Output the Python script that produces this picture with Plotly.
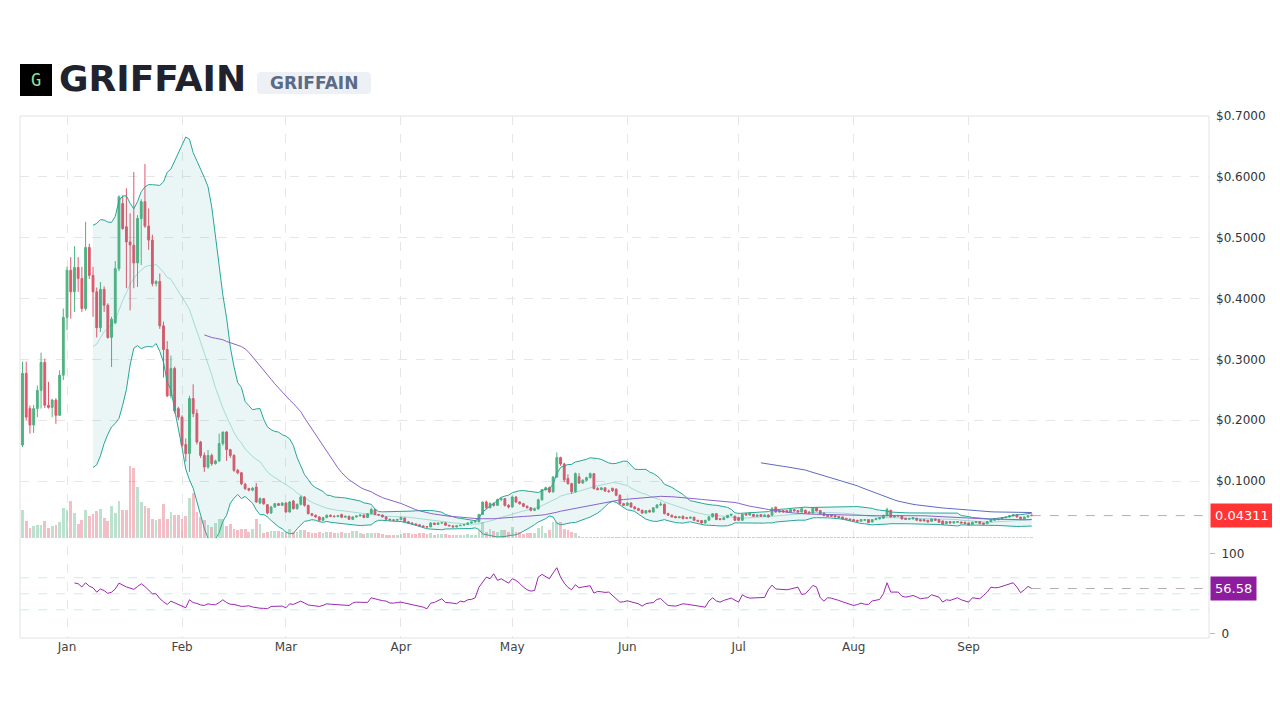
import pandas as pd
import plotly.graph_objects as go

# ---------------- data ----------------
start_date = "2024-12-20"

opens = [
    .159, .277, .219, .192, .219, .249, .295, .2245, .221, .233,
    .208, .274, .369, .4465, .411, .451, .433, .3835, .484, .438,
    .411, .352, .415, .389, .336, .360, .449, .556, .518, .493,
    .4875, .4585, .5315, .559, .519, .496, .4245, .428, .355, .316,
    .240, .285, .219, .205, .160, .145, .2355, .211, .164, .142,
    .123, .142, .1285, .133, .1615, .1805, .1515, .142, .1175, .1135,
    .0946, .0875, .085, .090, .0638, .071, .061, .0474, .0573, .0628,
    .060, .0638, .049, .067, .0545, .0616, .0737, .060, .0463, .0436,
    .0409, .0354, .0398, .0436, .042, .0414, .045, .0405, .042, .037,
    .0409, .0425, .044, .040, .0463, .053, .045, .044, .041, .037,
    .036, .0355, .0365, .039, .033, .031, .0295, .028, .0262, .0248,
    .0245, .031, .0285, .031, .0312, .0272, .0262, .0244, .0264, .0272,
    .0285, .031, .0326, .033, .045, .0655, .056, .063, .060, .0694,
    .071, .060, .0573, .0736, .0655, .0627, .0584, .056, .0518, .054,
    .069, .0858, .089, .082, .1066, .1385, .128, .104, .0957, .0822,
    .107, .0967, .1011, .1055, .112, .0875, .0858, .0887, .0835, .088,
    .0865, .0765, .0628, .060, .0638, .0573, .0545, .0518, .0474, .0513,
    .049, .056, .0605, .0617, .0464, .0436, .0416, .0395, .042, .0395,
    .0389, .0405, .0354, .035, .031, .0354, .0411, .0463, .0381, .0365,
    .0397, .0436, .042, .0397, .0354, .0463, .0441, .0452, .0419, .0447,
    .0419, .0441, .0436, .057, .049, .0513, .0513, .049, .0529, .0513,
    .049, .0518, .049, .0474, .056, .0513, .0474, .0441, .0447, .0436,
    .0419, .0409, .0387, .0376, .0365, .0354, .0338, .0354, .0365, .0326,
    .0365, .0376, .0387, .043, .0518, .0408, .043, .043, .0387, .037,
    .0376, .0387, .0365, .0365, .0354, .0338, .0376, .0365, .0343, .030,
    .0332, .031, .0321, .0326, .0321, .031, .0288, .0315, .0332, .031,
    .0299, .0332, .0354, .0376, .0376, .0397, .0408, .0425, .0447, .0408,
    .0376, .0408, .0442,
]

highs = [
    .296, .296, .224, .225, .257, .311, .301, .263, .235, .236,
    .282, .3835, .4525, .468, .486, .468, .452, .526, .490, .452,
    .418, .427, .420, .392, .370, .4615, .5695, .5695, .581, .540,
    .608, .537, .563, .621, .548, .505, .430, .441, .362, .330,
    .306, .288, .222, .208, .170, .240, .259, .218, .166, .147,
    .151, .145, .135, .178, .181, .182, .153, .144, .120, .115,
    .097, .089, .090, .0967, .073, .072, .062, .059, .064, .064,
    .065, .065, .067, .069, .063, .076, .075, .061, .047, .045,
    .042, .041, .045, .045, .044, .044, .046, .043, .043, .042,
    .043, .045, .045, .047, .056, .054, .046, .045, .042, .038,
    .037, .038, .041, .040, .034, .032, .030, .029, .027, .026,
    .032, .031, .032, .032, .032, .028, .027, .027, .028, .029,
    .032, .033, .036, .046, .066, .068, .065, .065, .071, .073,
    .072, .062, .076, .075, .067, .064, .060, .057, .056, .071,
    .087, .091, .091, .108, .147, .140, .130, .111, .097, .114,
    .113, .103, .107, .114, .113, .090, .090, .090, .086, .089,
    .088, .078, .064, .065, .065, .059, .056, .053, .052, .053,
    .057, .062, .066, .063, .048, .045, .043, .042, .043, .041,
    .041, .041, .036, .036, .036, .042, .047, .047, .039, .041,
    .044, .046, .043, .040, .046, .047, .048, .046, .045, .045,
    .045, .045, .0575, .058, .052, .052, .052, .054, .054, .052,
    .055, .053, .050, .057, .057, .052, .048, .045, .045, .044,
    .042, .041, .039, .038, .037, .036, .037, .037, .037, .037,
    .039, .040, .044, .0562, .053, .044, .044, .044, .039, .039,
    .040, .039, .037, .037, .036, .038, .038, .037, .035, .034,
    .034, .034, .034, .033, .033, .032, .033, .034, .034, .031,
    .034, .037, .039, .038, .040, .041, .044, .045, .045, .041,
    .041, .044, .045,
]

lows = [
    .156, .200, .178, .179, .205, .219, .220, .219, .205, .194,
    .207, .266, .348, .367, .378, .411, .378, .380, .432, .370,
    .336, .345, .378, .334, .2875, .358, .445, .513, .417, .3805,
    .417, .419, .455, .516, .480, .420, .420, .350, .270, .238,
    .236, .211, .200, .156, .132, .115, .205, .160, .138, .115,
    .120, .125, .127, .131, .158, .133, .138, .115, .111, .093,
    .085, .083, .083, .064, .062, .061, .045, .046, .056, .059,
    .059, .048, .048, .053, .053, .060, .058, .045, .042, .040,
    .034, .035, .039, .041, .040, .041, .039, .040, .036, .036,
    .040, .042, .039, .039, .046, .044, .043, .040, .036, .035,
    .035, .035, .036, .032, .030, .029, .027, .026, .024, .024,
    .024, .028, .028, .030, .027, .026, .024, .024, .026, .027,
    .028, .030, .032, .032, .044, .054, .055, .058, .059, .067,
    .058, .055, .056, .064, .061, .057, .055, .050, .051, .053,
    .068, .084, .080, .081, .105, .125, .098, .094, .079, .081,
    .095, .095, .099, .104, .086, .085, .085, .082, .081, .082,
    .075, .061, .059, .059, .056, .053, .051, .046, .046, .048,
    .048, .055, .059, .045, .043, .040, .039, .039, .037, .038,
    .038, .035, .033, .030, .030, .035, .040, .036, .036, .036,
    .039, .043, .035, .034, .035, .043, .043, .041, .041, .041,
    .041, .040, .043, .048, .048, .048, .048, .048, .050, .048,
    .048, .047, .046, .047, .050, .045, .042, .041, .041, .040,
    .039, .037, .036, .035, .034, .033, .033, .035, .031, .032,
    .036, .037, .038, .042, .040, .040, .042, .037, .036, .036,
    .037, .035, .034, .034, .032, .033, .035, .031, .028, .029,
    .030, .030, .032, .030, .029, .027, .028, .031, .029, .028,
    .029, .033, .035, .036, .037, .039, .040, .042, .040, .037,
    .037, .040, .042,
]

closes = [
    .277, .205, .192, .219, .249, .295, .2245, .221, .233, .208,
    .274, .369, .4465, .411, .451, .433, .3835, .484, .438, .411,
    .352, .415, .389, .336, .366, .449, .567, .515, .493, .488,
    .4585, .5315, .559, .519, .496, .4245, .428, .355, .316, .240,
    .285, .215, .205, .159, .145, .2355, .211, .164, .142, .123,
    .142, .1285, .133, .1615, .1805, .1515, .142, .1175, .1135, .0955,
    .0875, .085, .088, .0655, .071, .0625, .0474, .0573, .0628, .060,
    .0638, .049, .0655, .0545, .0616, .0737, .060, .0463, .0436, .0409,
    .0354, .0398, .0436, .042, .0414, .043, .0405, .042, .037, .0409,
    .0425, .044, .040, .0463, .053, .045, .044, .041, .037, .036,
    .0355, .0365, .040, .033, .031, .0295, .028, .0262, .0248, .0245,
    .031, .0285, .031, .0312, .0272, .0262, .0244, .0264, .0272, .0285,
    .031, .0326, .035, .045, .0655, .056, .063, .060, .0694, .071,
    .060, .0573, .0736, .0655, .0627, .0584, .056, .0518, .054, .069,
    .0858, .089, .082, .1066, .1385, .128, .102, .0957, .0822, .112,
    .0967, .1011, .1055, .112, .0875, .0858, .0887, .0835, .0825, .0842,
    .0765, .0628, .060, .0638, .0573, .0545, .0518, .0474, .0513, .049,
    .056, .0605, .0617, .0464, .0436, .041, .0395, .0411, .0381, .0389,
    .0405, .0354, .0338, .031, .0354, .0411, .0463, .0365, .0365, .0397,
    .0436, .0452, .0354, .0354, .0452, .0441, .0474, .0419, .0441, .0419,
    .0441, .0408, .0545, .049, .0513, .049, .049, .0529, .0507, .049,
    .0545, .0474, .0474, .056, .0507, .0463, .0431, .0419, .042, .0409,
    .0398, .0375, .0365, .0354, .0343, .0338, .0365, .0365, .0315, .0365,
    .0381, .0397, .0436, .053, .0408, .043, .0425, .0375, .037, .0381,
    .0397, .0354, .0343, .0343, .0326, .0376, .0354, .032, .0288, .0332,
    .031, .0332, .0332, .031, .0299, .0277, .0321, .0332, .0299, .0288,
    .0332, .0365, .0381, .0365, .0397, .0408, .043, .0447, .0408, .0381,
    .0408, .043, .04311,
]

# volume, millions (relative)
volumes = [
    28, 17, 10, 12, 13, 13, 17, 10, 12, 13,
    16, 30, 28, 37, 25, 14, 18, 28, 22, 24,
    27, 29, 20, 17, 32, 25, 37, 28, 28, 72,
    70, 51, 36, 32, 30, 19, 18, 19, 34, 19,
    26, 23, 23, 19, 22, 40, 45, 26, 21, 18,
    13, 11, 15, 19, 19, 12, 14, 9, 8, 9,
    9, 6, 9, 19, 14, 5, 6, 7, 7, 7,
    6, 5, 9, 6, 6, 8, 8, 6, 5, 5,
    6, 5, 6, 6, 5, 5, 6, 5, 5, 7,
    7, 5, 4, 5, 5, 5, 5, 4, 3, 3,
    3, 3, 4, 5, 5, 4, 4, 5, 5, 4,
    5, 3, 4, 4, 4, 3, 3, 3, 3, 3,
    4, 3, 3, 8, 16, 6, 9, 7, 6, 8,
    8, 6, 11, 6, 6, 4, 5, 5, 5, 10,
    12, 5, 8, 16, 16, 16, 9, 8, 6, 5,
    2, 1, 1, 1, 1, 1, 1, 1, 1, 1,
    1, 1, 1, 1, 1, 1, 1, 1, 1, 1,
    1, 1, 1, 1, 1, 1, 1, 1, 1, 1,
    1, 1, 1, 1, 1, 1, 1, 1, 1, 1,
    1, 1, 1, 1, 1, 1, 1, 1, 1, 1,
    1, 1, 1, 1, 1, 1, 1, 1, 1, 1,
    1, 1, 1, 1, 1, 1, 1, 1, 1, 1,
    1, 1, 1, 1, 1, 1, 1, 1, 1, 1,
    1, 1, 1, 1, 1, 1, 1, 1, 1, 1,
    1, 1, 1, 1, 1, 1, 1, 1, 1, 1,
    1, 1, 1, 1, 1, 1, 1, 1, 1, 1,
    1, 1, 1, 1, 1, 1, 1, 1, 1, 1,
    1, 1, 1,
]

# RSI(14) values, from the 15th day on
rsi_start = 14
rsi_values = [
    63.5, 62.5, 58.5, 63.7, 59.5, 57.5, 52, 56, 54, 50.5,
    52, 56, 63.3, 60.5, 58.5, 57, 55.5, 59, 62.5, 59,
    54, 50, 50, 44, 40, 36.7, 40.8, 38.5, 36.7, 34.5,
    32.5, 42.5, 39, 38, 36, 35.4, 37.5, 36.5, 36.3, 39,
    42.5, 39, 37, 36.7, 35.5, 34.2, 34.5, 35, 33.5, 32.5,
    32, 31.8, 31.25, 34.2, 34.5, 34.6, 34.6, 32.5, 37.5, 36.7,
    38.5, 40.8, 38.5, 36, 35.4, 34.7, 34.2, 35.5, 37.5, 37,
    36.7, 36, 35.6, 35.4, 35.4, 38.5, 39.6, 39.4, 39.4, 39.2,
    45, 43.5, 42.5, 41.5, 40.8, 38.5, 38.3, 39.2, 39.6, 38.5,
    37.5, 36.5, 35.4, 34.5, 33.3, 31.25, 38.3, 39.2, 41.5, 43.75,
    39.2, 39, 38.3, 37.5, 40.8, 39.8, 42.5, 43, 45, 58,
    65, 70.8, 68.75, 75, 66.7, 68.75, 66, 63.3, 68.75, 66.7,
    63, 58.3, 55, 53.3, 54.2, 70.8, 74.2, 71, 68.75, 76,
    82.5, 71, 63.3, 58, 55, 61.25, 57.5, 58.5, 59.5, 60,
    50.8, 52.9, 52.5, 51.7, 52.1, 47.9, 44, 39.6, 40, 41.25,
    40, 39, 37.5, 34.6, 37.5, 38.5, 39, 43, 44, 39.5,
    35.4, 35, 34.6, 36, 37.5, 37, 36.25, 35.5, 34.5, 34,
    33.3, 41, 45, 41, 39.6, 41.7, 43, 44.6, 42, 39.6,
    48.75, 46, 44.6, 45, 45.2, 45.3, 45.4, 55, 60.8, 56,
    55.5, 55.3, 55, 56, 57.5, 58.3, 49.2, 50, 55, 60.4,
    58.3, 45, 40.8, 45, 44.5, 43.5, 41.7, 40, 38.5, 37.5,
    35.4, 36.5, 38.3, 37, 36.7, 41, 42, 42.9, 50, 63.75,
    52.1, 52.5, 52.1, 47, 45.8, 46.7, 47.9, 46, 43.75, 44.5,
    45, 48.75, 47.5, 45.8, 39.6, 42.5, 41.7, 43.5, 45, 42.5,
    41, 39.6, 45, 44.5, 43.75, 47.9, 52, 58.3, 57.5, 57.8,
    59.5, 60.4, 62.5, 63.75, 58.3, 51.25, 55, 59.2, 56.58,
]

month_ticks = ["2025-01-01", "2025-02-01", "2025-03-01", "2025-04-01", "2025-05-01",
               "2025-06-01", "2025-07-01", "2025-08-01", "2025-09-01"]
month_labels = ["Jan", "Feb", "Mar", "Apr", "May", "Jun", "Jul", "Aug", "Sep"]
price_ticks = [0.1, 0.2, 0.3, 0.4, 0.5, 0.6, 0.7]
rsi_ticks = [0, 100]
rsi_levels = [30, 50, 70]
token_name = "GRIFFAIN"
token_symbol = "GRIFFAIN"
last_price_text = "0.04311"
last_rsi_text = "56.58"

# ---------------- derived series ----------------
dates = pd.date_range(start_date, periods=len(closes), freq="D")
cs = pd.Series(closes)
sma20 = cs.rolling(20).mean()
sd20 = cs.rolling(20).std(ddof=0)
bb_up = sma20 + 2 * sd20
bb_lo = sma20 - 2 * sd20
sma50 = cs.rolling(50).mean()
sma200 = cs.rolling(200).mean()

UP = "#4fb380"
DOWN = "#e3556a"
vol_colors = ["rgba(79,179,128,0.38)" if c >= o else "rgba(227,85,106,0.38)"
              for o, c in zip(opens, closes)]

# ---------------- geometry (page has an 8px body margin) ----------------
OFF = 8
W, H = 1280 - 2 * OFF, 720 - 2 * OFF
PL, PR, PT, PB = 20, 1209, 116, 638          # plot area in window pixels
ML, MR, MT, MB = PL - OFF, 1280 - OFF - PR, PT - OFF, 720 - OFF - PB
PW, PH = PR - PL, PB - PT


def px(x):
    return (x - PL) / PW


def py(y):
    return (PB - y) / PH


price_dom = [py(538.3), 1.0]
rsi_dom = [0.0, py(545.7)]

fig = go.Figure()

# volume (overlay axis)
fig.add_trace(go.Bar(x=dates, y=volumes, marker=dict(color=vol_colors, line=dict(width=0)),
                     width=0.75 * 86400000, xaxis="x", yaxis="y2", hoverinfo="skip"))

# Bollinger bands
fig.add_trace(go.Scatter(x=dates, y=bb_up, mode="lines", line=dict(color="#26a69a", width=1),
                         xaxis="x", yaxis="y", hoverinfo="skip"))
fig.add_trace(go.Scatter(x=dates, y=bb_lo, mode="lines", line=dict(color="#26a69a", width=1),
                         fill="tonexty", fillcolor="rgba(38,166,154,0.10)",
                         xaxis="x", yaxis="y", hoverinfo="skip"))
fig.add_trace(go.Scatter(x=dates, y=sma20, mode="lines", line=dict(color="rgba(38,166,154,0.35)", width=1),
                         xaxis="x", yaxis="y", hoverinfo="skip"))
fig.add_trace(go.Scatter(x=dates, y=sma50, mode="lines", line=dict(color="#8a63c8", width=1),
                         xaxis="x", yaxis="y", hoverinfo="skip"))
fig.add_trace(go.Scatter(x=dates, y=sma200, mode="lines", line=dict(color="#5c6bc0", width=1),
                         xaxis="x", yaxis="y", hoverinfo="skip"))

# candles
fig.add_trace(go.Candlestick(x=dates, open=opens, high=highs, low=lows, close=closes,
                             increasing=dict(line=dict(color=UP, width=1), fillcolor=UP),
                             decreasing=dict(line=dict(color=DOWN, width=1), fillcolor=DOWN),
                             whiskerwidth=0, xaxis="x", yaxis="y", hoverinfo="skip"))

# RSI
fig.add_trace(go.Scatter(x=dates[rsi_start:], y=rsi_values, mode="lines",
                         line=dict(color="#9c27b0", width=1), xaxis="x2", yaxis="y3", hoverinfo="skip"))

x_range = ["2024-12-19 07:50", "2025-11-04 18:30"]
grid = "#e6e6e6"
tickfont = dict(family="DejaVu Sans", size=12, color="#333333")

shapes = [
    dict(type="rect", xref="paper", yref="paper", x0=0, x1=1, y0=0, y1=1,
         line=dict(color="#e2e2e2", width=1), layer="below"),
    dict(type="line", xref="x", yref="y", x0=dates[-1], x1=x_range[1], y0=closes[-1], y1=closes[-1],
         line=dict(color="#b0b0b0", width=1, dash="dash")),
    dict(type="line", xref="x2", yref="y3", x0=dates[-1], x1=x_range[1], y0=rsi_values[-1], y1=rsi_values[-1],
         line=dict(color="#b0b0b0", width=1, dash="dash")),
    dict(type="rect", xref="paper", yref="paper", x0=px(20), x1=px(52), y0=py(96), y1=py(64),
         fillcolor="#000000", line=dict(width=0)),
]
for lv in rsi_levels:
    shapes.append(dict(type="line", xref="x2 domain", yref="y3", x0=0, x1=1, y0=lv, y1=lv,
                       line=dict(color="#cde9f5", width=1, dash="dash"), layer="below"))

bx0, bx1, by0, by1, r = px(257), px(371), py(94), py(72), 4
rx, ry = r / PW, r / PH
badge_path = (f"M {bx0+rx},{by0} L {bx1-rx},{by0} Q {bx1},{by0} {bx1},{by0+ry} "
              f"L {bx1},{by1-ry} Q {bx1},{by1} {bx1-rx},{by1} L {bx0+rx},{by1} "
              f"Q {bx0},{by1} {bx0},{by1-ry} L {bx0},{by0+ry} Q {bx0},{by0} {bx0+rx},{by0} Z")
shapes.append(dict(type="path", xref="paper", yref="paper", path=badge_path,
                   fillcolor="#edf0f4", line=dict(width=0)))

annotations = [
    dict(xref="paper", yref="paper", x=px(36), y=py(80), text="G", showarrow=False,
         font=dict(family="DejaVu Sans Mono", size=17, color="#8fe39a"), xanchor="center", yanchor="middle"),
    dict(xref="paper", yref="paper", x=px(57), y=py(78), text=f"<b>{token_name}</b>", showarrow=False,
         font=dict(family="DejaVu Sans", size=36, color="#20222e"), xanchor="left", yanchor="middle"),
    dict(xref="paper", yref="paper", x=px(314), y=py(83), text=f"<b>{token_symbol}</b>", showarrow=False,
         font=dict(family="DejaVu Sans", size=17, color="#5b6b85"), xanchor="center", yanchor="middle"),
    dict(xref="paper", yref="y", x=1, y=closes[-1], text=last_price_text, showarrow=False,
         xanchor="left", yanchor="middle", xshift=1, bgcolor="#ff3434", borderpad=4,
         font=dict(family="DejaVu Sans", size=13, color="#ffffff")),
    dict(xref="paper", yref="y3", x=1, y=rsi_values[-1], text=last_rsi_text, showarrow=False,
         xanchor="left", yanchor="middle", xshift=1, bgcolor="#8e1c9e", borderpad=4,
         font=dict(family="DejaVu Sans", size=13, color="#ffffff")),
]

fig.update_layout(
    width=W, height=H,
    margin=dict(l=ML, r=MR, t=MT, b=MB, autoexpand=False),
    paper_bgcolor="white", plot_bgcolor="white",
    showlegend=False, hovermode=False,
    bargap=0,
    xaxis=dict(domain=[0, 1], anchor="y", range=x_range, tickvals=month_ticks, showticklabels=False,
               showgrid=True, gridcolor=grid, griddash="dash", gridwidth=1, zeroline=False, automargin=False,
               showline=False, rangeslider=dict(visible=False), ticks=""),
    xaxis2=dict(domain=[0, 1], anchor="y3", matches="x", range=x_range, tickvals=month_ticks,
                ticktext=month_labels, showgrid=True, gridcolor=grid, griddash="dash", gridwidth=1,
                zeroline=False, showline=False, ticks="", automargin=False,
                tickfont=dict(family="DejaVu Sans", size=12, color="#444444")),
    yaxis=dict(domain=price_dom, anchor="x", side="right", range=[0.0058, 0.7], tickvals=price_ticks,
               tickformat="$.4f", showgrid=True, gridcolor=grid, griddash="dash", zeroline=False,
               showline=False, ticks="", ticklabelstandoff=6, tickfont=tickfont, automargin=False),
    yaxis2=dict(overlaying="y", anchor="x", range=[0, 422.3], visible=False, showgrid=False, automargin=False),
    yaxis3=dict(domain=rsi_dom, anchor="x2", side="right", range=[-5.2, 110], tickvals=rsi_ticks,
                showgrid=False, zeroline=False, showline=False, ticks="outside", ticklen=5,
                tickcolor="#bbbbbb", ticklabelstandoff=4, tickfont=tickfont, automargin=False),
    shapes=shapes,
    annotations=annotations,
)

fig.write_html("out.html")
